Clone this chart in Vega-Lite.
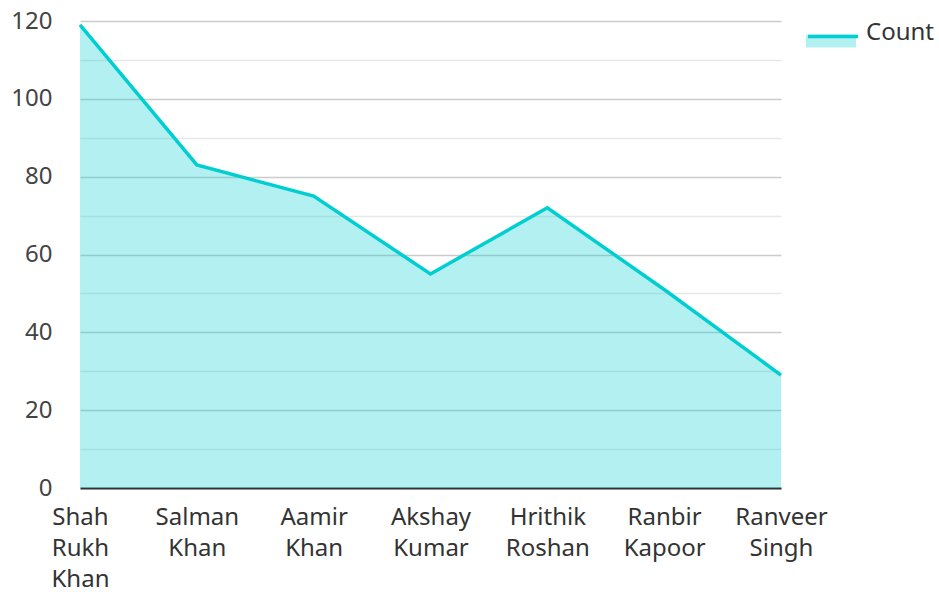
{
  "$schema": "https://vega.github.io/schema/vega-lite/v6.json",
  "width": 701,
  "height": 467,
  "autosize": {"type": "none"},
  "padding": {"left": 80, "top": 21, "right": 158, "bottom": 104},
  "background": "white",
  "config": {
    "view": {"stroke": null},
    "font": "Noto Sans"
  },
  "data": {
    "values": [
      {"actor": "Shah Rukh Khan", "count": 119},
      {"actor": "Salman Khan", "count": 83},
      {"actor": "Aamir Khan", "count": 75},
      {"actor": "Akshay Kumar", "count": 55},
      {"actor": "Hrithik Roshan", "count": 72},
      {"actor": "Ranbir Kapoor", "count": 51},
      {"actor": "Ranveer Singh", "count": 29}
    ]
  },
  "encoding": {
    "x": {
      "field": "actor",
      "type": "nominal",
      "sort": null,
      "scale": {"type": "point", "padding": 0},
      "axis": {
        "title": null,
        "labelAngle": 0,
        "labelExpr": "split(datum.label, ' ')",
        "labelFontSize": 24,
        "labelColor": "#333333",
        "labelLineHeight": 31,
        "labelPadding": 17,
        "labelBaseline": "top",
        "ticks": false,
        "domainColor": "#333333",
        "domainWidth": 2,
        "grid": false
      }
    },
    "y": {
      "field": "count",
      "type": "quantitative",
      "scale": {"domain": [0, 120], "nice": false},
      "axis": {
        "title": null,
        "values": [0, 10, 20, 30, 40, 50, 60, 70, 80, 90, 100, 110, 120],
        "labelExpr": "datum.value % 20 === 0 ? datum.label : ''",
        "labelFontSize": 24,
        "labelColor": "#444444",
        "labelPadding": 28,
        "ticks": false,
        "domain": false,
        "grid": true,
        "gridWidth": 1.5,
        "gridColor": {"condition": {"test": "datum.value % 20 === 0", "value": "#cccccc"}, "value": "#e8e8e8"}
      }
    }
  },
  "layer": [
    {
      "mark": {"type": "area", "fillOpacity": 0.3},
      "encoding": {
        "fill": {
          "datum": "Count",
          "scale": {"range": ["#00CED1"]},
          "legend": {
            "orient": "none",
            "legendX": 726,
            "legendY": -13,
            "padding": 0,
            "title": null,
            "symbolType": "M-1,0.06L1,0.06L1,0.58L-1,0.58Z",
            "symbolSize": 2500,
            "symbolOpacity": 0.3,
            "symbolFillColor": "#00CED1",
            "symbolStrokeWidth": 0,
            "labelOffset": 10,
            "labelFontSize": 24,
            "labelColor": "#333333"
          }
        }
      }
    },
    {
      "mark": {"type": "line", "strokeWidth": 3.5},
      "encoding": {
        "stroke": {
          "datum": "Count line",
          "scale": {"range": ["#00CED1"]},
          "legend": {
            "orient": "none",
            "legendX": 726,
            "legendY": -13,
            "padding": 0,
            "title": null,
            "symbolType": "M-1,0.06L1,0.06",
            "symbolSize": 2500,
            "symbolStrokeWidth": 3.5,
            "symbolStrokeColor": "#00CED1",
            "labelExpr": "''",
            "labelOffset": 10,
            "labelFontSize": 24,
            "labelColor": "#333333"
          }
        }
      }
    }
  ]
}
